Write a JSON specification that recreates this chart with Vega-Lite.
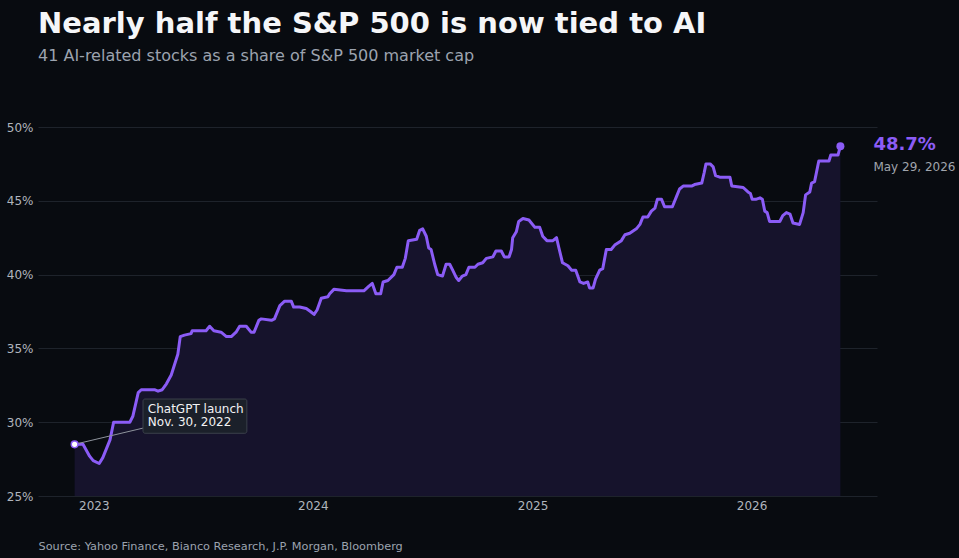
{
  "$schema": "https://vega.github.io/schema/vega-lite/v6.json",
  "width": 839,
  "height": 369,
  "autosize": {"type": "none"},
  "padding": {"left": 38, "top": 127, "right": 82, "bottom": 62},
  "background": "#080b10",
  "title": {
    "text": "Nearly half the S&P 500 is now tied to AI",
    "subtitle": "41 AI-related stocks as a share of S&P 500 market cap",
    "anchor": "start",
    "frame": "group",
    "font": "DejaVu Sans",
    "fontSize": 29,
    "fontWeight": "bold",
    "color": "#f5f6f8",
    "subtitleFont": "DejaVu Sans",
    "subtitleFontSize": 16,
    "subtitleColor": "#9ca3af",
    "subtitlePadding": 9,
    "offset": 57
  },
  "config": {
    "view": {"stroke": null},
    "font": "DejaVu Sans",
    "axis": {"labelFont": "DejaVu Sans", "titleFont": "DejaVu Sans"}
  },
  "datasets": {
    "series": [
      {"date": "2022-11-30", "value": 28.5},
      {"date": "2022-12-14", "value": 28.5},
      {"date": "2022-12-25", "value": 27.7},
      {"date": "2022-12-31", "value": 27.4},
      {"date": "2023-01-10", "value": 27.2},
      {"date": "2023-01-16", "value": 27.6},
      {"date": "2023-01-28", "value": 28.8},
      {"date": "2023-02-03", "value": 30.0},
      {"date": "2023-03-02", "value": 30.0},
      {"date": "2023-03-07", "value": 30.4},
      {"date": "2023-03-16", "value": 32.0},
      {"date": "2023-03-21", "value": 32.2},
      {"date": "2023-04-12", "value": 32.2},
      {"date": "2023-04-18", "value": 32.1},
      {"date": "2023-04-25", "value": 32.2},
      {"date": "2023-05-02", "value": 32.6},
      {"date": "2023-05-10", "value": 33.2},
      {"date": "2023-05-17", "value": 34.1},
      {"date": "2023-05-21", "value": 34.6},
      {"date": "2023-05-25", "value": 35.8},
      {"date": "2023-06-01", "value": 35.9},
      {"date": "2023-06-12", "value": 36.0},
      {"date": "2023-06-14", "value": 36.2},
      {"date": "2023-07-07", "value": 36.2},
      {"date": "2023-07-13", "value": 36.5},
      {"date": "2023-07-20", "value": 36.2},
      {"date": "2023-08-01", "value": 36.1},
      {"date": "2023-08-10", "value": 35.8},
      {"date": "2023-08-18", "value": 35.8},
      {"date": "2023-08-26", "value": 36.1},
      {"date": "2023-09-01", "value": 36.5},
      {"date": "2023-09-12", "value": 36.5},
      {"date": "2023-09-20", "value": 36.1},
      {"date": "2023-09-25", "value": 36.1},
      {"date": "2023-10-03", "value": 36.9},
      {"date": "2023-10-07", "value": 37.0},
      {"date": "2023-10-24", "value": 36.9},
      {"date": "2023-10-29", "value": 37.0},
      {"date": "2023-11-07", "value": 37.9},
      {"date": "2023-11-15", "value": 38.2},
      {"date": "2023-11-26", "value": 38.2},
      {"date": "2023-11-30", "value": 37.8},
      {"date": "2023-12-10", "value": 37.8},
      {"date": "2023-12-21", "value": 37.7},
      {"date": "2023-12-28", "value": 37.5},
      {"date": "2024-01-03", "value": 37.3},
      {"date": "2024-01-08", "value": 37.6},
      {"date": "2024-01-15", "value": 38.4},
      {"date": "2024-01-26", "value": 38.5},
      {"date": "2024-01-29", "value": 38.7},
      {"date": "2024-02-05", "value": 39.0},
      {"date": "2024-02-26", "value": 38.9},
      {"date": "2024-03-26", "value": 38.9},
      {"date": "2024-04-03", "value": 39.2},
      {"date": "2024-04-09", "value": 39.4},
      {"date": "2024-04-15", "value": 38.7},
      {"date": "2024-04-23", "value": 38.7},
      {"date": "2024-04-27", "value": 39.5},
      {"date": "2024-05-05", "value": 39.6},
      {"date": "2024-05-15", "value": 40.0},
      {"date": "2024-05-20", "value": 40.5},
      {"date": "2024-05-29", "value": 40.5},
      {"date": "2024-06-03", "value": 41.1},
      {"date": "2024-06-08", "value": 42.3},
      {"date": "2024-06-22", "value": 42.4},
      {"date": "2024-06-27", "value": 43.0},
      {"date": "2024-07-02", "value": 43.1},
      {"date": "2024-07-08", "value": 42.6},
      {"date": "2024-07-12", "value": 41.8},
      {"date": "2024-07-16", "value": 41.7},
      {"date": "2024-07-22", "value": 40.7},
      {"date": "2024-07-27", "value": 40.0},
      {"date": "2024-08-04", "value": 39.9},
      {"date": "2024-08-10", "value": 40.7},
      {"date": "2024-08-16", "value": 40.7},
      {"date": "2024-08-21", "value": 40.3},
      {"date": "2024-08-27", "value": 39.8},
      {"date": "2024-08-31", "value": 39.6},
      {"date": "2024-09-06", "value": 39.9},
      {"date": "2024-09-12", "value": 40.0},
      {"date": "2024-09-17", "value": 40.5},
      {"date": "2024-09-27", "value": 40.5},
      {"date": "2024-10-02", "value": 40.7},
      {"date": "2024-10-10", "value": 40.8},
      {"date": "2024-10-16", "value": 41.1},
      {"date": "2024-10-27", "value": 41.2},
      {"date": "2024-11-01", "value": 41.6},
      {"date": "2024-11-10", "value": 41.6},
      {"date": "2024-11-15", "value": 41.2},
      {"date": "2024-11-23", "value": 41.2},
      {"date": "2024-11-27", "value": 41.7},
      {"date": "2024-11-29", "value": 42.5},
      {"date": "2024-12-05", "value": 42.9},
      {"date": "2024-12-09", "value": 43.6},
      {"date": "2024-12-16", "value": 43.8},
      {"date": "2024-12-26", "value": 43.7},
      {"date": "2025-01-05", "value": 43.2},
      {"date": "2025-01-13", "value": 43.2},
      {"date": "2025-01-18", "value": 42.6},
      {"date": "2025-01-25", "value": 42.3},
      {"date": "2025-02-04", "value": 42.3},
      {"date": "2025-02-10", "value": 42.5},
      {"date": "2025-02-14", "value": 41.8},
      {"date": "2025-02-20", "value": 40.8},
      {"date": "2025-03-01", "value": 40.6},
      {"date": "2025-03-07", "value": 40.3},
      {"date": "2025-03-14", "value": 40.3},
      {"date": "2025-03-21", "value": 39.5},
      {"date": "2025-03-27", "value": 39.4},
      {"date": "2025-04-03", "value": 39.5},
      {"date": "2025-04-06", "value": 39.1},
      {"date": "2025-04-12", "value": 39.1},
      {"date": "2025-04-16", "value": 39.7},
      {"date": "2025-04-23", "value": 40.3},
      {"date": "2025-04-28", "value": 40.4},
      {"date": "2025-05-04", "value": 41.7},
      {"date": "2025-05-12", "value": 41.7},
      {"date": "2025-05-18", "value": 42.0},
      {"date": "2025-05-29", "value": 42.3},
      {"date": "2025-06-04", "value": 42.7},
      {"date": "2025-06-12", "value": 42.8},
      {"date": "2025-06-23", "value": 43.1},
      {"date": "2025-06-29", "value": 43.4},
      {"date": "2025-07-04", "value": 43.9},
      {"date": "2025-07-12", "value": 43.9},
      {"date": "2025-07-18", "value": 44.3},
      {"date": "2025-07-24", "value": 44.5},
      {"date": "2025-07-28", "value": 45.1},
      {"date": "2025-08-04", "value": 45.1},
      {"date": "2025-08-09", "value": 44.6},
      {"date": "2025-08-22", "value": 44.6},
      {"date": "2025-08-29", "value": 45.3},
      {"date": "2025-09-03", "value": 45.8},
      {"date": "2025-09-09", "value": 46.0},
      {"date": "2025-09-23", "value": 46.0},
      {"date": "2025-09-28", "value": 46.1},
      {"date": "2025-10-10", "value": 46.2},
      {"date": "2025-10-14", "value": 46.9},
      {"date": "2025-10-17", "value": 47.5},
      {"date": "2025-10-24", "value": 47.5},
      {"date": "2025-10-29", "value": 47.3},
      {"date": "2025-11-02", "value": 46.7},
      {"date": "2025-11-09", "value": 46.6},
      {"date": "2025-11-26", "value": 46.6},
      {"date": "2025-11-29", "value": 46.0},
      {"date": "2025-12-18", "value": 45.9},
      {"date": "2025-12-26", "value": 45.6},
      {"date": "2025-12-30", "value": 45.5},
      {"date": "2026-01-02", "value": 45.1},
      {"date": "2026-01-08", "value": 45.1},
      {"date": "2026-01-15", "value": 45.2},
      {"date": "2026-01-19", "value": 45.1},
      {"date": "2026-01-23", "value": 44.3},
      {"date": "2026-01-27", "value": 44.2},
      {"date": "2026-01-31", "value": 43.6},
      {"date": "2026-02-17", "value": 43.6},
      {"date": "2026-02-22", "value": 44.0},
      {"date": "2026-02-28", "value": 44.2},
      {"date": "2026-03-06", "value": 44.1},
      {"date": "2026-03-11", "value": 43.5},
      {"date": "2026-03-22", "value": 43.4},
      {"date": "2026-03-28", "value": 44.2},
      {"date": "2026-04-01", "value": 45.4},
      {"date": "2026-04-08", "value": 45.6},
      {"date": "2026-04-11", "value": 46.2},
      {"date": "2026-04-16", "value": 46.3},
      {"date": "2026-04-23", "value": 47.7},
      {"date": "2026-05-10", "value": 47.7},
      {"date": "2026-05-13", "value": 48.1},
      {"date": "2026-05-25", "value": 48.1},
      {"date": "2026-05-29", "value": 48.7}
    ],
    "start": [{"date": "2022-11-30", "value": 28.5}],
    "end": [{"date": "2026-05-29", "value": 48.7, "pct": "48.7%", "when": "May 29, 2026"}],
    "link": [{"date": "2022-11-30", "value": 28.5, "date2": "2023-03-24", "value2": 29.6}],
    "box": [{"date": "2023-03-24", "value": 29.25, "date2": "2023-09-13", "value2": 31.57}],
    "note": [{"date": "2023-04-01", "value": 30.87, "label": "ChatGPT launch\nNov. 30, 2022"}]
  },
  "encoding": {
    "x": {
      "field": "date",
      "type": "temporal",
      "scale": {"domain": [{"year": 2022, "month": 9, "date": 30, "utc": true}, {"year": 2026, "month": 7, "date": 29, "utc": true}]},
      "axis": {
        "title": "Source: Yahoo Finance, Bianco Research, J.P. Morgan, Bloomberg",
        "titleAnchor": "start",
        "titleAlign": "left",
        "titleFontSize": 11.3,
        "titleFontWeight": "normal",
        "titleColor": "#9ca3af",
        "titlePadding": 29,
        "format": "%Y",
        "tickCount": {"interval": "year", "step": 1},
        "domain": false,
        "ticks": false,
        "grid": false,
        "labelColor": "#b0b5bd",
        "labelFontSize": 12,
        "labelPadding": 4
      }
    },
    "y": {
      "field": "value",
      "type": "quantitative",
      "scale": {"domain": [25, 50], "zero": false, "nice": false},
      "axis": {
        "title": null,
        "values": [25, 30, 35, 40, 45, 50],
        "labelExpr": "datum.value + '%'",
        "domain": false,
        "ticks": false,
        "gridColor": "#1e232b",
        "gridWidth": 1,
        "labelColor": "#b0b5bd",
        "labelFontSize": 12,
        "labelPadding": 5
      }
    }
  },
  "layer": [
    {"data": {"name": "series"}, "mark": {"type": "area", "color": "#16132c", "opacity": 1}, "encoding": {"y2": {"datum": 25}}},
    {"data": {"name": "series"}, "mark": {"type": "line", "color": "#8b5cf6", "strokeWidth": 3, "strokeJoin": "round", "strokeCap": "round"}},
    {"data": {"name": "link"}, "mark": {"type": "rule", "color": "#8e939c", "strokeWidth": 1}, "encoding": {"x2": {"field": "date2"}, "y2": {"field": "value2"}}},
    {"data": {"name": "box"}, "mark": {"type": "rect", "fill": "#1b202a", "stroke": "#3b404b", "strokeWidth": 1, "cornerRadius": 2}, "encoding": {"x2": {"field": "date2"}, "y2": {"field": "value2"}}},
    {"data": {"name": "note"}, "mark": {"type": "text", "align": "left", "baseline": "middle", "color": "#f2f2f4", "fontSize": 12, "lineBreak": "\n", "lineHeight": 13}, "encoding": {"text": {"field": "label"}}},
    {"data": {"name": "start"}, "mark": {"type": "point", "filled": true, "fill": "#ffffff", "stroke": "#8b5cf6", "strokeWidth": 1.5, "size": 45, "opacity": 1}},
    {"data": {"name": "end"}, "mark": {"type": "point", "filled": true, "color": "#8b5cf6", "size": 64, "opacity": 1}},
    {"data": {"name": "end"}, "mark": {"type": "text", "align": "left", "baseline": "middle", "dx": 33, "dy": -1, "fontSize": 18, "fontWeight": "bold", "color": "#8b5cf6"}, "encoding": {"text": {"field": "pct"}}},
    {"data": {"name": "end"}, "mark": {"type": "text", "align": "left", "baseline": "middle", "dx": 33, "dy": 21, "fontSize": 12, "color": "#a0a5ad"}, "encoding": {"text": {"field": "when"}}}
  ]
}
